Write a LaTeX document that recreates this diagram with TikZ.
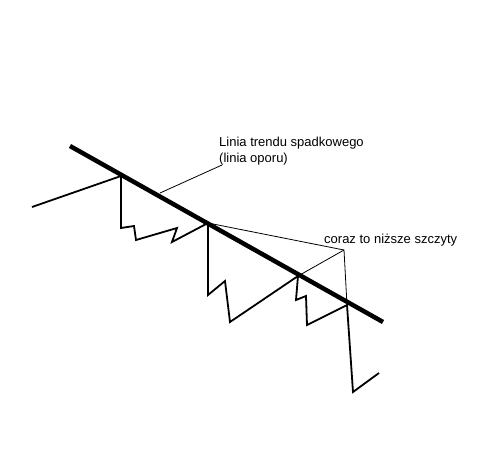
\documentclass[tikz,border=0pt]{standalone}
\usepackage{fontspec}
\setmainfont{Liberation Sans}
\begin{document}
\begin{tikzpicture}[x=1pt,y=-1pt,
  price/.style={line width=1.8pt,line join=miter},
  trend/.style={line width=4.5pt},
  leader/.style={line width=0.8pt},
  lbl/.style={inner sep=0pt,anchor=base west,font=\fontsize{13}{16}\selectfont}]
\useasboundingbox (0,0) rectangle (482,464);
% price points
\coordinate (p0) at (32,207);
\coordinate (pk1) at (121,176);
\coordinate (a1) at (121,228);
\coordinate (a2) at (134,226);
\coordinate (a3) at (136,240);
\coordinate (a4) at (177,228);
\coordinate (a5) at (172,242);
\coordinate (pk2) at (208,223);
\coordinate (b1) at (208,295);
\coordinate (b2) at (225,281);
\coordinate (b3) at (230,322);
\coordinate (pk3) at (298,276);
\coordinate (c1) at (296,300);
\coordinate (c2) at (306,296);
\coordinate (c3) at (307,325);
\coordinate (pk4) at (347,305);
\coordinate (d1) at (353,392);
\coordinate (d2) at (379,373);
% trend line
\coordinate (t0) at (70,146);
\coordinate (t1) at (383,322);
\draw[trend] (t0) -- (t1);
\draw[price] (p0) -- (pk1) -- (a1) -- (a2) -- (a3) -- (a4) -- (a5) -- (pk2)
  -- (b1) -- (b2) -- (b3) -- (pk3) -- (c1) -- (c2) -- (c3) -- (pk4) -- (d1) -- (d2);
% labels
\node[lbl] (L1) at (219,146) {Linia trendu spadkowego};
\node[lbl] (L2) at (219,162) {(linia oporu)};
\node[lbl] (L3) at (324,243) {coraz to niższe szczyty};
% leaders
\coordinate (tl) at (160,193);
\coordinate (tlend) at (222,165);
\draw[leader] (tl) -- (tlend);
\coordinate (apex) at (344,250);
\draw[leader] (pk2) -- (apex) -- (pk4);
\draw[leader] (pk3) -- (apex);
\end{tikzpicture}
\end{document}
